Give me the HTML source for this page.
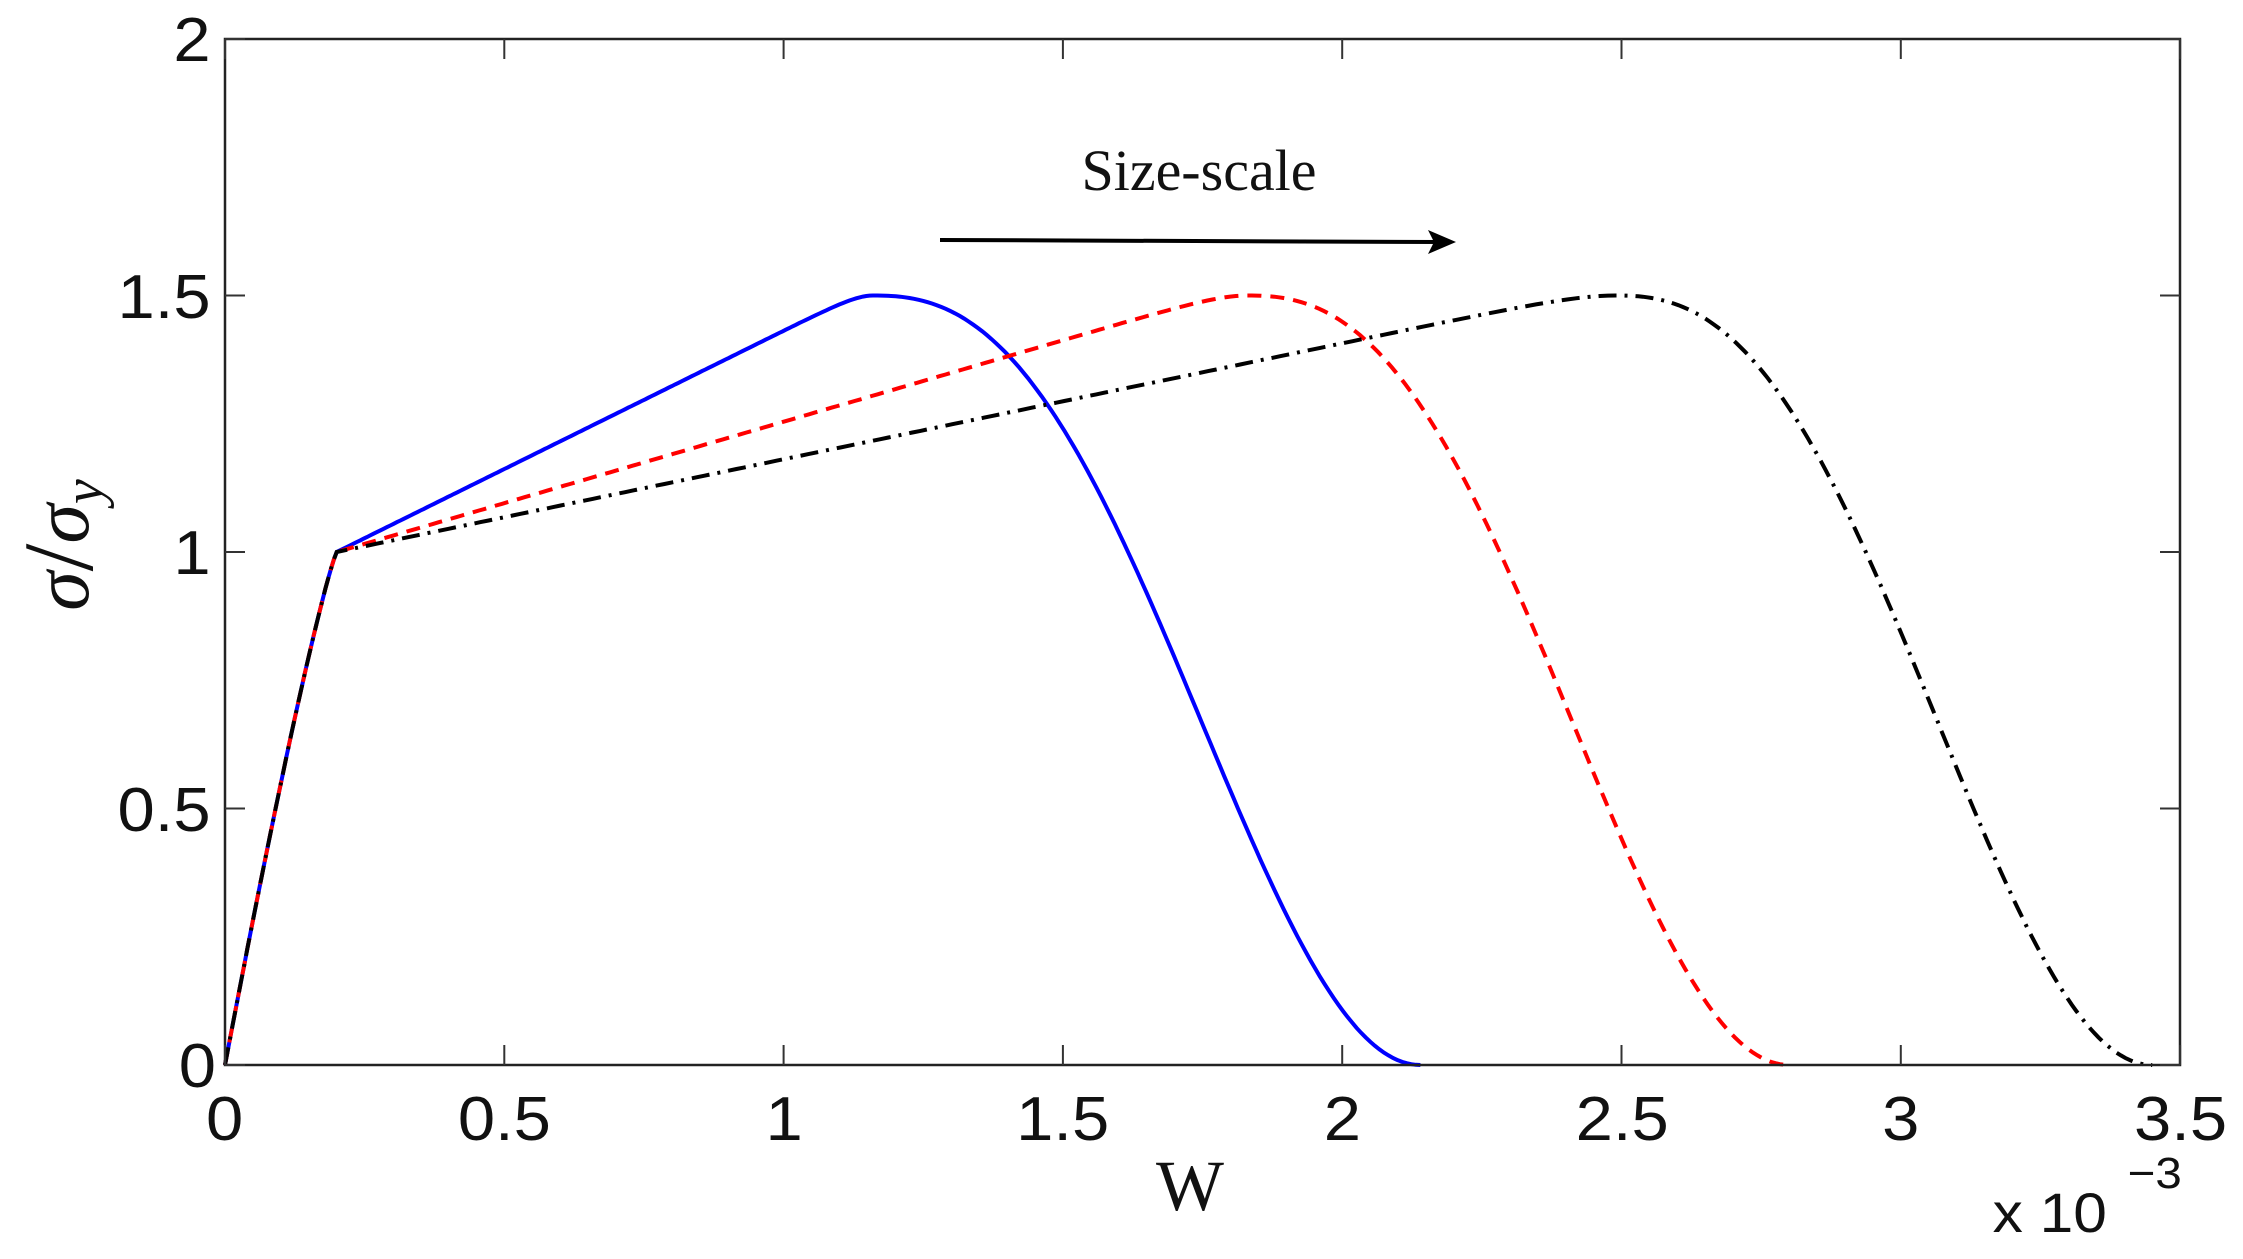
<!DOCTYPE html>
<html><head><meta charset="utf-8"><style>html,body{margin:0;padding:0;background:#fff}svg{display:block}</style></head>
<body>
<svg id="s" width="2243" height="1259" xmlns="http://www.w3.org/2000/svg">
<rect width="2243" height="1259" fill="#fff"/>
<g id="curves"></g>
<rect x="225" y="39" width="1955" height="1026" fill="none" stroke="#222" stroke-width="2.5"/>
<g id="ticks" stroke="#333" stroke-width="2"></g>
<g font-family="Liberation Sans, sans-serif" font-size="62" fill="#111" transform="scale(1.08,1)">
<text x="208" y="1140" text-anchor="middle">0</text>
<text x="467" y="1140" text-anchor="middle">0.5</text>
<text x="726" y="1140" text-anchor="middle">1</text>
<text x="984" y="1140" text-anchor="middle">1.5</text>
<text x="1243" y="1140" text-anchor="middle">2</text>
<text x="1502" y="1140" text-anchor="middle">2.5</text>
<text x="1760" y="1140" text-anchor="middle">3</text>
<text x="2019" y="1140" text-anchor="middle">3.5</text>
<text x="200" y="1087" text-anchor="end">0</text>
<text x="195" y="831" text-anchor="end">0.5</text>
<text x="195" y="574" text-anchor="end">1</text>
<text x="195" y="318" text-anchor="end">1.5</text>
<text x="195" y="61" text-anchor="end">2</text>
<text x="1845" y="1232" font-size="56">x 10</text>
<text x="1970" y="1188" font-size="44">−3</text>
</g>
<text x="1190" y="1210" text-anchor="middle" font-family="Liberation Serif, serif" font-size="72" fill="#111">W</text>
<text x="1199" y="190" text-anchor="middle" font-family="Liberation Serif, serif" font-size="58" fill="#111">Size-scale</text>
<line x1="940" y1="240" x2="1440" y2="242" stroke="#000" stroke-width="4"/>
<polygon points="1456,242 1428,230 1434,242 1428,254" fill="#000"/>
<g transform="translate(88,545) rotate(-90)" font-family="Liberation Serif, serif" font-style="italic" font-size="80" fill="#111">
<text x="0" y="0" text-anchor="middle">σ<tspan font-style="normal" font-size="100" dy="4">/</tspan><tspan dy="-4">σ</tspan><tspan font-size="56" dy="14">y</tspan></text>
</g>
</svg>
<script>
var X0=225,XS=279.3/0.5,Y0=1065,YS=256.5/0.5;
function px(x){return X0+x*XS} function py(y){return Y0-y*YS}
function curve(pk,z){
 var pts=[];
 for(var i=0;i<=40;i++){var x=0.2*i/40;var u=x/0.2;var y=1-Math.pow(1-u,1.15);pts.push([x,y]);}
 var a=1.035,k=a/(a-1);
 for(var i=1;i<=160;i++){var x=0.2+(pk-0.2)*i/160;var u=(x-0.2)/(pk-0.2);var y=1+0.5*(a*u-(a-1)*Math.pow(u,k));pts.push([x,y]);}
 for(var i=1;i<=120;i++){var t=i/120;var x=pk+(z-pk)*t;var y=1.5*(1+Math.cos(Math.PI*Math.pow(t,1.227)))/2;pts.push([x,y]);}
 return pts.map(function(p,i){return (i?'L':'M')+px(p[0]).toFixed(1)+','+py(p[1]).toFixed(1)}).join('');
}
var g=document.getElementById('curves');
var ns='http://www.w3.org/2000/svg';
[[1.16,2.14,'#0000ff',''],[1.83,2.80,'#ff0000','14 9'],[2.49,3.45,'#000','18 8 3 8']].forEach(function(c){
 var p=document.createElementNS(ns,'path');p.setAttribute('d',curve(c[0],c[1]));p.setAttribute('fill','none');
 p.setAttribute('stroke',c[2]);p.setAttribute('stroke-width','4');if(c[3])p.setAttribute('stroke-dasharray',c[3]);g.appendChild(p);
});
var tk=document.getElementById('ticks');
for(var i=0;i<=7;i++){var x=X0+i*279.3;
 [[x,1065,x,1045],[x,39,x,59]].forEach(function(l){var e=document.createElementNS(ns,'line');e.setAttribute('x1',l[0]);e.setAttribute('y1',l[1]);e.setAttribute('x2',l[2]);e.setAttribute('y2',l[3]);tk.appendChild(e);});}
for(var i=0;i<=4;i++){var y=Y0-i*256.5;
 [[225,y,245,y],[2180,y,2160,y]].forEach(function(l){var e=document.createElementNS(ns,'line');e.setAttribute('x1',l[0]);e.setAttribute('y1',l[1]);e.setAttribute('x2',l[2]);e.setAttribute('y2',l[3]);tk.appendChild(e);});}
</script>
</body></html>
